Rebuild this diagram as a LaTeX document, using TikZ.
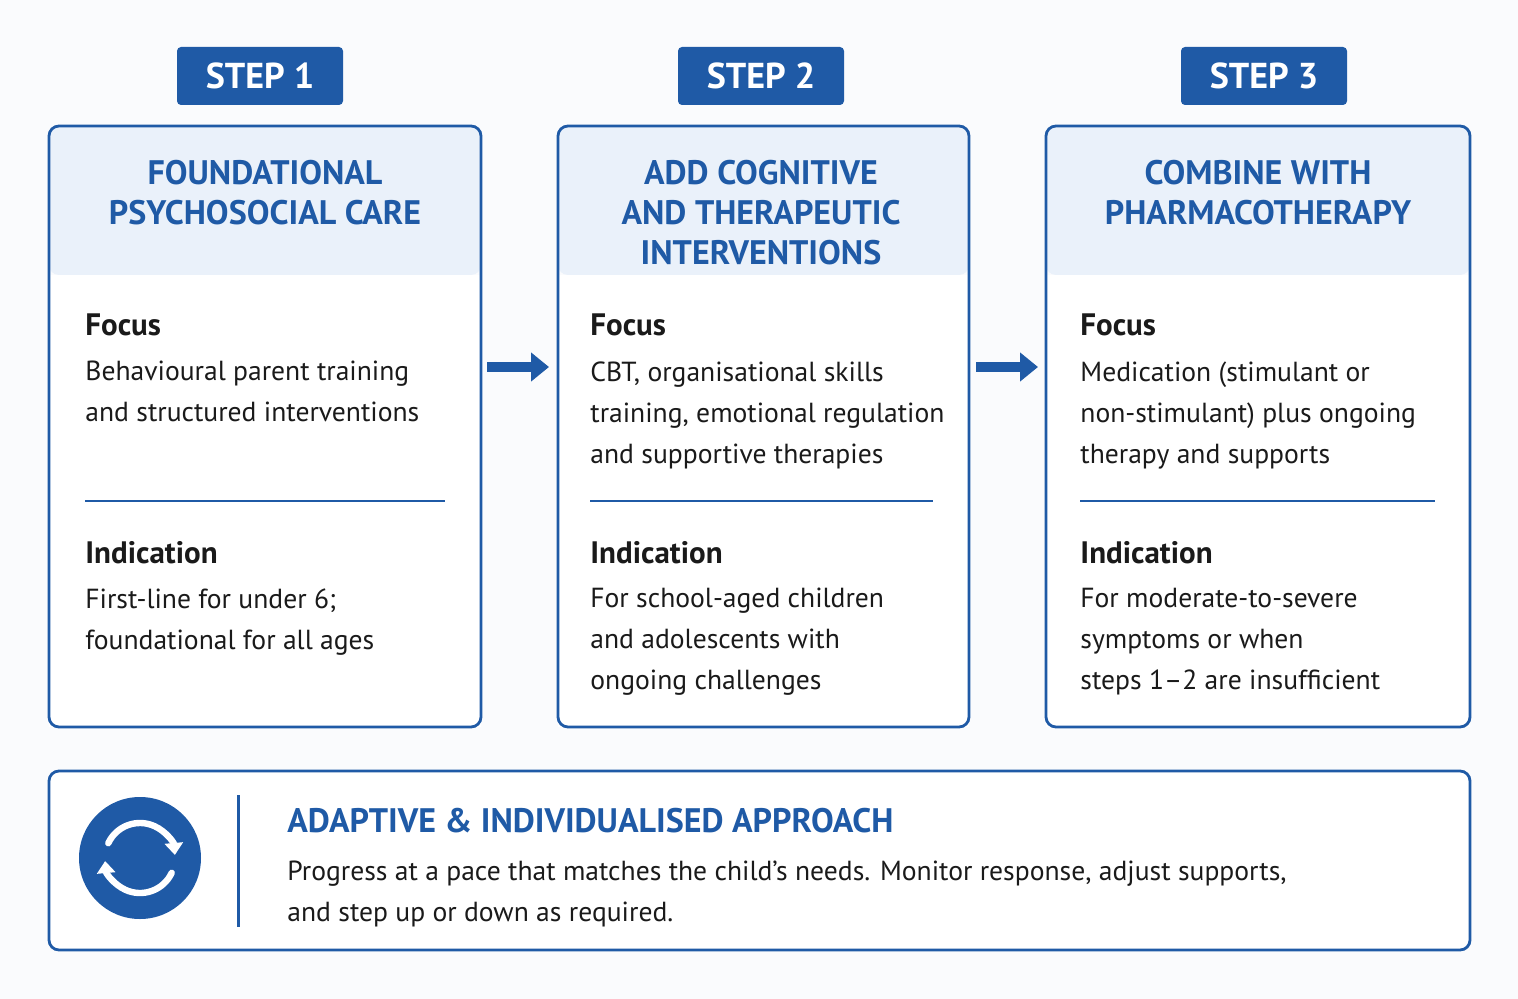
\documentclass[tikz,border=0pt]{standalone}
\usepackage{fontspec}
\setmainfont{PT Sans}
\usetikzlibrary{arrows.meta}
\definecolor{stepblue}{HTML}{1F5AA6}
\definecolor{headfill}{HTML}{EAF1FA}
\definecolor{bgcol}{HTML}{FAFBFD}
\definecolor{txt}{HTML}{1A1A1A}
\tikzset{
  card/.style={draw=stepblue,line width=1.4pt,rounded corners=5pt},
  tag/.style={fill=stepblue,rounded corners=2pt,text=white,font=\bfseries\fontsize{18}{20}\selectfont,
    minimum width=83pt,minimum height=29pt,inner sep=0pt},
  head/.style={text=stepblue,font=\bfseries\fontsize{17}{20}\selectfont,align=center},
  lbl/.style={anchor=base west,text=txt,font=\bfseries\fontsize{15.5}{18}\selectfont,inner sep=0pt},
  body/.style={anchor=north west,text=txt,align=left,inner sep=0pt,
    font=\fontsize{13.8}{20.5}\selectfont},
  sep/.style={stepblue,line width=1pt},
  flow/.style={-{Triangle[length=9pt,width=14pt]},stepblue,line width=5pt}
}
\begin{document}
\begin{tikzpicture}[x=0.5pt,y=-0.5pt]
    \fill[bgcol] (0,0) rectangle (1518,999);
    \useasboundingbox (0,0) rectangle (1518,999);

    % the three cards
    \fill[headfill,rounded corners=5pt] (49,126) rectangle (481,275);
    \fill[white] (49,275) rectangle (481,727);
    \draw[card] (49,126) rectangle (481,727);
    \fill[headfill,rounded corners=5pt] (558,126) rectangle (969,275);
    \fill[white] (558,275) rectangle (969,727);
    \draw[card] (558,126) rectangle (969,727);
    \fill[headfill,rounded corners=5pt] (1046,126) rectangle (1470,275);
    \fill[white] (1046,275) rectangle (1470,727);
    \draw[card] (1046,126) rectangle (1470,727);

    \node[tag] (t1) at (260,76) {STEP 1};
    \node[tag] (t2) at (761,76) {STEP 2};
    \node[tag] (t3) at (1264,76) {STEP 3};

    \node[head] (h1) at (265,193) {FOUNDATIONAL\\PSYCHOSOCIAL CARE};
    \node[head] (h2) at (761,213) {ADD COGNITIVE\\AND THERAPEUTIC\\INTERVENTIONS};
    \node[head] (h3) at (1258,193) {COMBINE WITH\\PHARMACOTHERAPY};

    % column 1
    \node[lbl] (f1) at (85,336) {Focus};
    \node[body] (fb1) at (85,361) {Behavioural parent training\\and structured interventions};
    \draw[sep] (85,501) -- (445,501);
    \node[lbl] (i1) at (85,563) {Indication};
    \node[body] (ib1) at (85,588) {First-line for under 6;\\foundational for all ages};

    % column 2
    \node[lbl] (f2) at (590,336) {Focus};
    \node[body] (fb2) at (590,361) {CBT, organisational skills\\training, emotional regulation\\and supportive therapies};
    \draw[sep] (590,501) -- (933,501);
    \node[lbl] (i2) at (590,563) {Indication};
    \node[body] (ib2) at (590,588) {For school-aged children\\and adolescents with\\ongoing challenges};

    % column 3
    \node[lbl] (f3) at (1080,336) {Focus};
    \node[body] (fb3) at (1080,361) {Medication (stimulant or\\non-stimulant) plus ongoing\\therapy and supports};
    \draw[sep] (1080,501) -- (1435,501);
    \node[lbl] (i3) at (1080,563) {Indication};
    \node[body] (ib3) at (1080,588) {For moderate-to-severe\\symptoms or when\\steps 1--2 are insufficient};

    \coordinate (a1) at (487,367);
    \coordinate (a2) at (549,367);
    \coordinate (b1) at (976,367);
    \coordinate (b2) at (1038,367);
    \draw[flow] (a1) -- (a2);
    \draw[flow] (b1) -- (b2);

    % bottom panel
    \draw[card,fill=white] (49,771) rectangle (1470,950);
    \node[circle,fill=stepblue,minimum size=61pt,inner sep=0pt] (ic) at (140,858) {};
    \draw[white,line width=3.2pt,line cap=round,-{Triangle[length=6pt,width=9pt]}]
      ([shift={(205:35)}]ic.center) arc[start angle=205,end angle=355,radius=35];
    \draw[white,line width=3.2pt,line cap=round,-{Triangle[length=6pt,width=9pt]}]
      ([shift={(25:35)}]ic.center) arc[start angle=25,end angle=175,radius=35];
    \draw[stepblue,line width=1.5pt] (238,795) -- (238,927);
    \node[anchor=base west,inner sep=0pt,text=stepblue,font=\bfseries\fontsize{17}{20}\selectfont]
      (at) at (287,832) {ADAPTIVE \& INDIVIDUALISED APPROACH};
    \node[body] (ab) at (287,861) {Progress at a pace that matches the child’s needs. Monitor response, adjust supports,\\and step up or down as required.};
\end{tikzpicture}
\end{document}
